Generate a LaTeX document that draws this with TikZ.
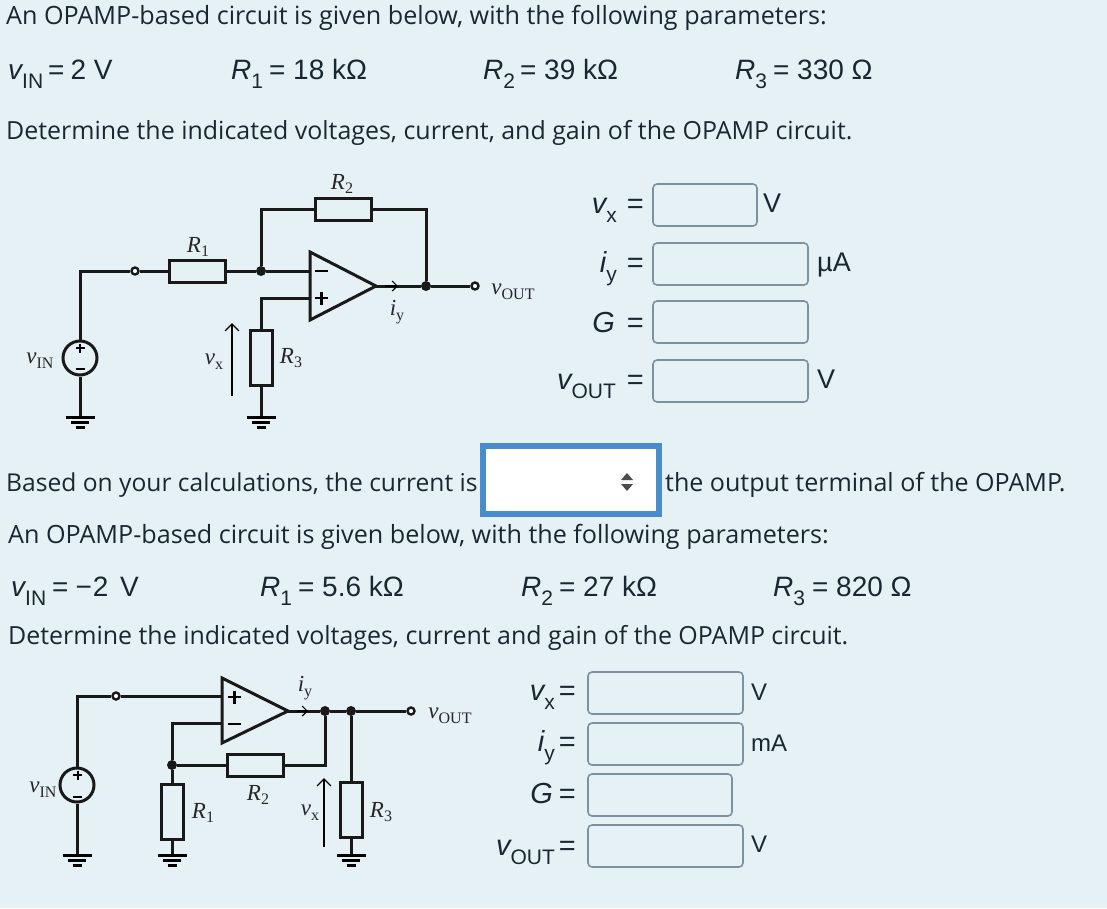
\documentclass[tikz,border=0pt]{standalone}
\usepackage[no-math]{fontspec}
\usepackage{amsmath}
\setmainfont{Open Sans}
\newfontfamily\parfont{Liberation Sans}
\newfontfamily\cirfont{Liberation Serif}
\definecolor{pagebg}{RGB}{230, 241, 246}
\definecolor{inkdark}{RGB}{25, 40, 48}
\definecolor{boxedge}{RGB}{125, 146, 158}
\definecolor{selectblue}{RGB}{72, 140, 204}
\usetikzlibrary{arrows.meta, calc, positioning}
\newcommand{\varsub}[2]{{\itshape #1}\raisebox{-0.33em}{\upshape\fontsize{21}{24}\selectfont #2}}
\newcommand{\cirsub}[2]{{\itshape #1}\raisebox{-0.2em}{\fontsize{16}{18}\selectfont #2}}
\begin{document}
\begin{tikzpicture}[x=1pt, y=-1pt,
    txtline/.style={anchor=base west, inner sep=0pt, text=inkdark, font=\fontsize{25.05}{30}\selectfont},
    param/.style={anchor=base west, inner sep=0pt, text=inkdark, font=\fontsize{28}{30}\parfont},
    answer/.style={anchor=base east, inner sep=0pt, text=inkdark, font=\fontsize{29}{30}\parfont},
    unit/.style={anchor=base west, inner sep=0pt, text=inkdark, font=\fontsize{27}{30}\parfont},
    inbox/.style={draw=boxedge, line width=1.6pt, rounded corners=4pt, anchor=north west, inner sep=0pt, minimum height=42pt},
    wire/.style={line width=3pt, black!90},
    res/.style={draw=black!90, line width=3pt, fill=pagebg, inner sep=0pt},
    resh/.style={res, minimum width=56pt, minimum height=22pt},
    resv/.style={res, minimum width=22pt, minimum height=55pt},
    dot/.style={circle, fill=black!90, inner sep=0pt, minimum size=10pt},
    term/.style={circle, draw=black!90, fill=white, line width=2.4pt, inner sep=0pt, minimum size=7pt},
    src/.style={circle, draw=black!90, fill=pagebg, line width=3pt, inner sep=0pt, minimum size=34pt},
    lbl/.style={inner sep=0pt, text=black!85, font=\fontsize{23}{24}\cirfont},
    gnd/.pic={\draw[line width=3pt] (-14.5,0) -- (14.5,0); \draw[line width=3pt] (-9,5) -- (9,5); \draw[line width=3pt] (-4.5,10) -- (4.5,10);}
]
    % Page
    \fill[pagebg] (0,0) rectangle (1107,908);
    \useasboundingbox (0,0) rectangle (1107,908);

    % First question text
    \node[txtline, font=\fontsize{25.15}{30}\selectfont] (titleA) at (6,24) {An OPAMP-based circuit is given below, with the following parameters:};
    \node[param] (vinA) at (8,79) {\varsub{v}{IN}\hspace{5pt}=\hspace{6pt}2 V};
    \node[param] (roneA) at (231,79) {\varsub{R}{1}\hspace{6pt}= 18 kΩ};
    \node[param] (rtwoA) at (483,79) {\varsub{R}{2}\hspace{5pt}= 39 kΩ};
    \node[param] (rthreeA) at (735,79) {\varsub{R}{3}\hspace{6pt}= 330 Ω};
    \node[txtline, font=\fontsize{24.95}{30}\selectfont] (taskA) at (6,139) {Determine the indicated voltages, current, and gain of the OPAMP circuit.};

    % First circuit
    \node[src] (vsA) at (80,358) {};
    \node[resh] (r1A) at (197,271) {};
    \node[resh] (r2A) at (343,209) {};
    \node[resv] (r3A) at (261,358) {};
    \node[dot] (nodeA) at (261,271) {};
    \node[dot] (outA) at (426,286) {};
    \node[term] (inA) at (135,271) {};
    \node[term] (vout1) at (475,286) {};
    \coordinate (cornerA) at (80,271);
    \coordinate (topleftA) at (261,209);
    \coordinate (toprightA) at (426,209);
    \coordinate (plusA) at (310,298);
    \coordinate (plusturnA) at (261,298);
    \coordinate (minusA) at (310,271);
    \coordinate (gndvA) at (80,417);
    \coordinate (gndrA) at (261,417);
    \coordinate (tipA) at (376,286);
    \draw[wire] (vsA) -- (cornerA) -- (inA);
    \draw[wire] (inA) -- (r1A);
    \draw[wire] (r1A) -- (nodeA) -- (minusA);
    \draw[wire] (nodeA) -- (topleftA) -- (r2A);
    \draw[wire] (r2A) -- (toprightA) -- (outA);
    \draw[wire] (tipA) -- (outA) -- (vout1);
    \draw[wire] (plusA) -- (plusturnA) -- (r3A);
    \draw[wire] (r3A) -- (gndrA);
    \draw[wire] (vsA) -- (gndvA);
    \draw[wire, line join=miter] (310,252) -- (376,286) -- (310,320) -- cycle;
    \draw[line width=2.6pt] (315,271) -- (328,271);
    \draw[line width=2.6pt] (315,298) -- (328,298) (321.5,291.5) -- (321.5,304.5);
    \draw[-{Straight Barb[length=5pt,width=10pt]}, line width=1.2pt] (385,286) -- (398,286);
    \pic at (gndvA) {gnd};
    \pic at (gndrA) {gnd};
    \draw[line width=2pt] (75.5,348) -- (84.5,348) (80,343.5) -- (80,352.5);
    \draw[line width=2pt] (75.5,369) -- (84.5,369);
    \coordinate (vxlowA) at (232,396);
    \coordinate (vxhighA) at (232,323);
    \draw[-{Straight Barb[length=7pt,width=14pt]}, line width=1.3pt] (vxlowA) -- (vxhighA);
    \node[lbl] (r2lblA) at (342,184) {\cirsub{R}{2}};
    \node[lbl] (r1lblA) at (198,247) {\cirsub{R}{1}};
    \node[lbl] (r3lblA) at (291,358) {\cirsub{R}{3}};
    \node[lbl] (vinlblA) at (40,361) {\cirsub{v}{IN}};
    \node[lbl] (vxlblA) at (214,362) {\cirsub{v}{x}};
    \node[lbl] (iylblA) at (397,312) {\cirsub{i}{y}};
    \node[lbl] (voutlblA) at (513,292) {\cirsub{v}{OUT}};

    % First answers
    \node[inbox, minimum width=104pt] (ansxA) at (652.2,183.2) {};
    \node[inbox, minimum width=155pt] (ansyA) at (652.2,242.2) {};
    \node[inbox, minimum width=155pt] (ansgA) at (652.2,300.2) {};
    \node[inbox, minimum width=155pt] (ansoA) at (652.2,359.2) {};
    \node[answer] (eqxA) at (644,213) {\varsub{v}{x}\hspace{10pt}=};
    \node[answer] (eqyA) at (644,272) {\varsub{i}{y}\hspace{10pt}=};
    \node[answer] (eqgA) at (644,332) {{\itshape G}\hspace{12pt}=};
    \node[answer] (eqoA) at (644,389) {\varsub{v}{OUT}\hspace{11pt}=};
    \node[unit] (unitxA) at (763,212) {V};
    \node[unit] (unityA) at (817,271) {µA};
    \node[unit] (unitoA) at (817,388) {V};

    % Sentence with selector
    \node[txtline, font=\fontsize{24.6}{30}\selectfont] (basedB) at (6,491) {Based on your calculations, the current is};
    \node[draw=selectblue, fill=white, line width=6pt, minimum width=176pt, minimum height=67.5pt, inner sep=0pt, anchor=north west] (select) at (480,443) {};
    \fill[black!70] (621,480) -- (627,473) -- (633,480) -- cycle;
    \fill[black!70] (621,484) -- (627,491) -- (633,484) -- cycle;
    \node[txtline] (restB) at (665,491) {the output terminal of the OPAMP.};

    % Second question text
    \node[txtline, font=\fontsize{25.15}{30}\selectfont] (titleB) at (8,543) {An OPAMP-based circuit is given below, with the following parameters:};
    \node[param] (vinB) at (11,596) {\varsub{v}{IN}\hspace{6pt}=\hspace{7pt}−\hspace{1pt}2\hspace{4pt} V};
    \node[param] (roneB) at (260,596) {\varsub{R}{1}\hspace{6pt}= 5.6 kΩ};
    \node[param] (rtwoB) at (521,596) {\varsub{R}{2}\hspace{6pt}= 27 kΩ};
    \node[param] (rthreeB) at (773,596) {\varsub{R}{3}\hspace{7pt}= 820 Ω};
    \node[txtline, font=\fontsize{24.95}{30}\selectfont] (taskB) at (8,644) {Determine the indicated voltages, current and gain of the OPAMP circuit.};

    % Second circuit
    \node[src] (vsB) at (77,785) {};
    \node[resv] (r1B) at (172,812) {};
    \node[resh] (r2B) at (255,765) {};
    \node[resv] (r3B) at (351,810) {};
    \node[dot] (nodeB) at (172,765) {};
    \node[dot] (outB) at (325,711) {};
    \node[dot] (out2B) at (351,711) {};
    \node[term] (inB) at (116,696) {};
    \node[term] (vout2) at (411,711) {};
    \coordinate (cornerB) at (77,696);
    \coordinate (plusB) at (222,696);
    \coordinate (minusB) at (222,723);
    \coordinate (minusturnB) at (172,723);
    \coordinate (backB) at (325,765);
    \coordinate (tipB) at (288,711);
    \coordinate (gndvB) at (77,855);
    \coordinate (gndrB) at (172,855);
    \coordinate (gndtB) at (351,855);
    \draw[wire] (vsB) -- (cornerB) -- (inB);
    \draw[wire] (inB) -- (plusB);
    \draw[wire] (minusB) -- (minusturnB) -- (nodeB);
    \draw[wire] (nodeB) -- (r1B);
    \draw[wire] (r1B) -- (gndrB);
    \draw[wire] (nodeB) -- (r2B);
    \draw[wire] (r2B) -- (backB) -- (outB);
    \draw[wire] (tipB) -- (outB) -- (out2B) -- (vout2);
    \draw[wire] (out2B) -- (r3B);
    \draw[wire] (r3B) -- (gndtB);
    \draw[wire] (vsB) -- (gndvB);
    \draw[wire, line join=miter] (222,678) -- (288,711) -- (222,743) -- cycle;
    \draw[line width=2.6pt] (228,697) -- (241,697) (234.5,690.5) -- (234.5,703.5);
    \draw[line width=2.6pt] (228,724) -- (241,724);
    \draw[-{Straight Barb[length=5pt,width=10pt]}, line width=1.2pt] (297,711) -- (308,711);
    \pic at (gndvB) {gnd};
    \pic at (gndrB) {gnd};
    \pic at (gndtB) {gnd};
    \draw[line width=2pt] (73,775) -- (82,775) (77.5,770.5) -- (77.5,779.5);
    \draw[line width=2pt] (73,797) -- (82,797);
    \coordinate (vxlowB) at (324,847);
    \coordinate (vxhighB) at (324,778);
    \draw[-{Straight Barb[length=7pt,width=14pt]}, line width=1.3pt] (vxlowB) -- (vxhighB);
    \node[lbl] (r1lblB) at (203,813) {\cirsub{R}{1}};
    \node[lbl] (r2lblB) at (258,795) {\cirsub{R}{2}};
    \node[lbl] (r3lblB) at (381,812) {\cirsub{R}{3}};
    \node[lbl] (vinlblB) at (43,790) {\cirsub{v}{IN}};
    \node[lbl] (vxlblB) at (310,813) {\cirsub{v}{x}};
    \node[lbl] (iylblB) at (305,688) {\cirsub{i}{y}};
    \node[lbl] (voutlblB) at (450,716) {\cirsub{v}{OUT}};

    % Second answers
    \node[inbox, minimum width=155pt] (ansxB) at (587.2,671.2) {};
    \node[inbox, minimum width=155pt] (ansyB) at (587.2,722.2) {};
    \node[inbox, minimum width=144pt] (ansgB) at (587.2,773.2) {};
    \node[inbox, minimum width=155pt] (ansoB) at (587.2,824.2) {};
    \node[answer] (eqxB) at (576,700) {\varsub{v}{x}\hspace{4pt}=};
    \node[answer] (eqyB) at (576,751) {\varsub{i}{y}\hspace{4pt}=};
    \node[answer] (eqgB) at (576,803) {{\itshape G}\hspace{6pt}=};
    \node[answer] (eqoB) at (576,855) {\varsub{v}{OUT}\hspace{4pt}=};
    \node[unit, font=\fontsize{24}{28}\parfont] (unitxB) at (751,700) {V};
    \node[unit, font=\fontsize{24}{28}\parfont] (unityB) at (751,751) {mA};
    \node[unit, font=\fontsize{24}{28}\parfont] (unitoB) at (751,852) {V};
\end{tikzpicture}
\end{document}
